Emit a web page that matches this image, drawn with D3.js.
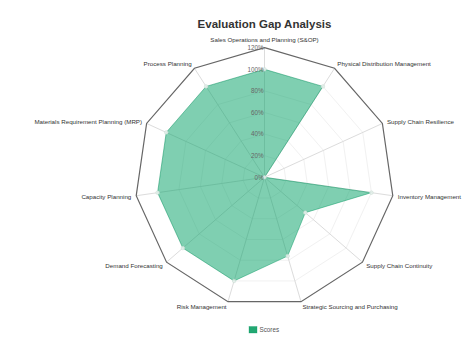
<!DOCTYPE html>
<html>
<head>
<meta charset="utf-8">
<script src="https://cdn.jsdelivr.net/npm/d3@7"></script>
<style>
  html, body { margin: 0; padding: 0; background: #fff; }
  svg { display: block; font-family: "Liberation Sans", Arial, sans-serif; }
</style>
</head>
<body>
<svg id="chart" width="474" height="337"></svg>
<script>
// Radar chart: evaluation scores per supply-chain area
const categories = [
  "Sales Operations and Planning (S&OP)",
  "Physical Distribution Management",
  "Supply Chain Resilience",
  "Inventory Management",
  "Supply Chain Continuity",
  "Strategic Sourcing and Purchasing",
  "Risk Management",
  "Demand Forecasting",
  "Capacity Planning",
  "Materials Requirement Planning (MRP)",
  "Process Planning"
];
const scores = [100, 100, 0, 100, 50, 76, 100, 100, 100, 100, 100];
const tickValues = [0, 20, 40, 60, 80, 100, 120];
const seriesName = "Scores";
const titleText = "Evaluation Gap Analysis";

const svg = d3.select("#chart");
const cx = 264.5, cy = 177.3, R = 129.6;
const n = categories.length;

const r = d3.scaleLinear().domain([0, 120]).range([0, R]);
const angle = d3.scaleLinear().domain([0, n]).range([0, 2 * Math.PI]);
const pt = (i, v) => [cx + Math.sin(angle(i)) * r(v), cy - Math.cos(angle(i)) * r(v)];

// title
svg.append("text")
  .attr("x", cx).attr("y", 28)
  .attr("text-anchor", "middle")
  .attr("font-size", 11.5).attr("font-weight", "bold")
  .attr("fill", "#333")
  .text(titleText);

const grid = svg.append("g");

// inner grid rings
tickValues.slice(1, -1).forEach(t => {
  grid.append("polygon")
    .attr("points", d3.range(n).map(i => pt(i, t).join(",")).join(" "))
    .attr("fill", "none").attr("stroke", "#f1f1f1").attr("stroke-width", 1);
});

// spokes
d3.range(n).forEach(i => {
  const [x, y] = pt(i, 120);
  grid.append("line")
    .attr("x1", cx).attr("y1", cy).attr("x2", x).attr("y2", y)
    .attr("stroke", "#dcdcdc").attr("stroke-width", 1);
});

// outer ring
grid.append("polygon")
  .attr("points", d3.range(n).map(i => pt(i, 120).join(",")).join(" "))
  .attr("fill", "none").attr("stroke", "#666").attr("stroke-width", 1.2);

// data polygon
const line = d3.lineRadial()
  .angle((d, i) => angle(i))
  .radius(d => r(d))
  .curve(d3.curveLinearClosed);

svg.append("path")
  .attr("transform", `translate(${cx},${cy})`)
  .attr("d", line(scores))
  .attr("fill", "rgba(0,160,100,0.5)")
  .attr("stroke", "rgba(0,150,95,0.45)")
  .attr("stroke-width", 1);

// points
svg.append("g").selectAll("circle")
  .data(scores)
  .join("circle")
  .attr("cx", (d, i) => pt(i, d)[0])
  .attr("cy", (d, i) => pt(i, d)[1])
  .attr("r", 1.8)
  .attr("fill", "rgba(230,240,235,0.9)")
  .attr("stroke", "rgba(200,220,210,0.9)")
  .attr("stroke-width", 0.6);

// tick labels
svg.append("g").selectAll("text")
  .data(tickValues)
  .join("text")
  .attr("x", cx - 1)
  .attr("y", d => cy - r(d))
  .attr("dy", "0.35em")
  .attr("text-anchor", "end")
  .attr("font-size", 6.3)
  .attr("fill", "#666")
  .text(d => d + "%");

// category labels
svg.append("g").selectAll("text")
  .data(categories)
  .join("text")
  .each(function(d, i) {
    const a = angle(i);
    const s = Math.sin(a), c = Math.cos(a);
    const x = cx + s * (R + 5), y = cy - c * (R + 5);
    const anchor = Math.abs(s) < 0.01 ? "middle" : (s > 0 ? "start" : "end");
    d3.select(this)
      .attr("x", x)
      .attr("y", Math.abs(s) < 0.01 ? y - 0.5 : y)
      .attr("dy", Math.abs(s) < 0.01 ? "0em" : "0.35em")
      .attr("text-anchor", anchor);
  })
  .attr("font-size", 6.2)
  .attr("fill", "#333")
  .text(d => d);

// legend
const lg = svg.append("g").attr("transform", "translate(249,326.5)");
lg.append("rect").attr("width", 8).attr("height", 6.5)
  .attr("fill", "#22a872").attr("stroke", "rgba(0,150,95,0.6)").attr("stroke-width", 0.5);
lg.append("text").attr("x", 10.5).attr("y", 5.6)
  .attr("font-size", 6.3).attr("fill", "#555").text(seriesName);
</script>
</body>
</html>
